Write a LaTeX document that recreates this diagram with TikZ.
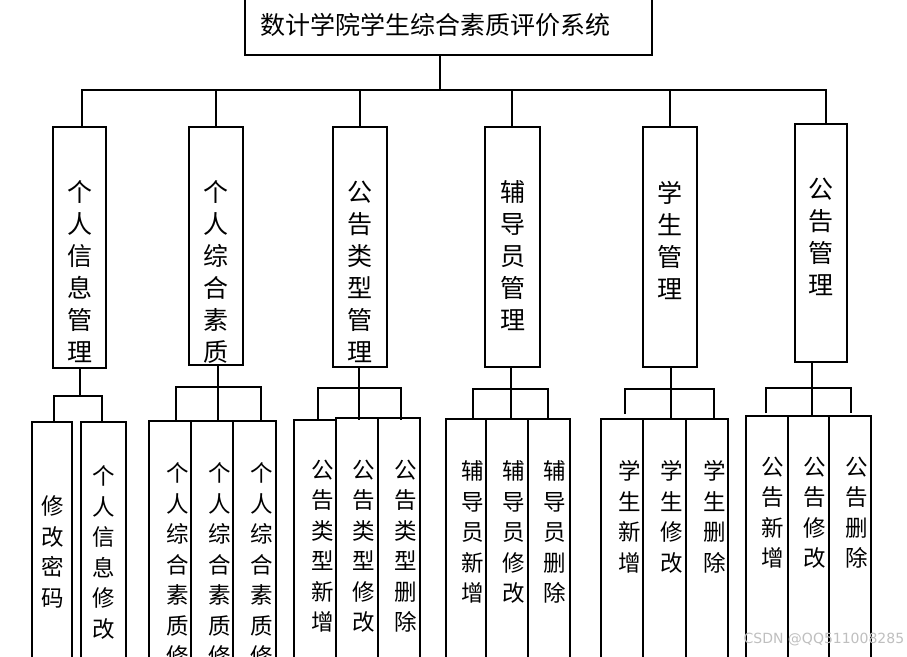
\documentclass[tikz,border=0pt]{standalone}
\usepackage{fontspec}
\newfontfamily\cjk{Noto Sans CJK SC}
\begin{document}
\begin{tikzpicture}[x=1pt,y=-1pt,line width=1.6pt,
  mt/.style={font=\cjk\fontsize{25}{32}\selectfont,align=center,anchor=north,inner sep=0pt},
  lt/.style={font=\cjk\fontsize{22.5}{30.5}\selectfont,align=center,anchor=north,inner sep=0pt}]
\useasboundingbox (0,0) rectangle (907,656);
\clip (0,0) rectangle (907,656);
\fill[white] (0,0) rectangle (907,656);
% title
\draw (245,-20) -- (245,55) -- (652,55) -- (652,-20);
\coordinate (T) at (440,55);
\node[font=\cjk\fontsize{25}{28}\selectfont,anchor=west] (title) at (256,25) {数计学院学生综合素质评价系统};
\draw (T) -- (440,90);
\draw (82,127) -- (82,90) -- (826,90) -- (826,124);
\foreach \x in {216,360,512,670} \draw (\x,90) -- (\x,127);
% level 2
\newcommand\Lbox[6]{% name, x1,y1,x2,y2, text
  \draw (#2,#3) rectangle (#4,#5);
  \node[mt] (#1) at ({(#2+#4)/2},#3+53) {#6};}
\Lbox{a}{53}{127}{106}{368}{个\\人\\信\\息\\管\\理}
\Lbox{b}{189}{127}{243}{365}{个\\人\\综\\合\\素\\质}
\Lbox{c}{333}{127}{387}{367}{公\\告\\类\\型\\管\\理}
\Lbox{d}{485}{127}{540}{367}{辅\\导\\员\\管\\理}
\Lbox{e}{643}{127}{697}{367}{学\\生\\管\\理}
\Lbox{f}{795}{124}{847}{362}{公\\告\\管\\理}
\newcommand\Stxt[4]{\node[lt] (#1) at (#2,#3) {#4};}
% group a
\draw (80,368) -- (80,396); \draw (54,422) -- (54,396) -- (102,396) -- (102,422);
\draw (32,422) rectangle (72,720); \draw (81,422) rectangle (126,720);
\Stxt{a1}{53}{495}{修\\改\\密\\码}
\Stxt{a2}{104}{465}{个\\人\\信\\息\\修\\改}
% group b
\draw (218,365) -- (218,421); \draw (176,421) -- (176,387) -- (261,387) -- (261,421);
\draw (149,421) rectangle (191,720); \draw (191,421) rectangle (233,720); \draw (233,421) rectangle (276,720);
\Stxt{b1}{178}{462}{个\\人\\综\\合\\素\\质\\修}
\Stxt{b2}{220}{462}{个\\人\\综\\合\\素\\质\\修}
\Stxt{b3}{262}{462}{个\\人\\综\\合\\素\\质\\修}
% group c
\draw (359,367) -- (359,420); \draw (318,420) -- (318,388) -- (401,388) -- (401,420);
\draw (294,420) rectangle (336,720); \draw (336,418) rectangle (378,720); \draw (378,418) rectangle (420,720);
\Stxt{c1}{323}{459}{公\\告\\类\\型\\新\\增}
\Stxt{c2}{364}{459}{公\\告\\类\\型\\修\\改}
\Stxt{c3}{406}{459}{公\\告\\类\\型\\删\\除}
% group d
\draw (511,367) -- (511,419); \draw (473,419) -- (473,389) -- (548,389) -- (548,419);
\draw (446,419) rectangle (486,720); \draw (486,419) rectangle (528,720); \draw (528,419) rectangle (570,720);
\Stxt{d1}{473}{460}{辅\\导\\员\\新\\增}
\Stxt{d2}{514}{460}{辅\\导\\员\\修\\改}
\Stxt{d3}{555}{460}{辅\\导\\员\\删\\除}
% group e
\draw (671,367) -- (671,419); \draw (625,414) -- (625,389) -- (714,389) -- (714,419);
\draw (601,419) rectangle (643,720); \draw (643,419) rectangle (686,720); \draw (686,419) rectangle (728,720);
\Stxt{e1}{630}{460}{学\\生\\新\\增}
\Stxt{e2}{672}{460}{学\\生\\修\\改}
\Stxt{e3}{715}{460}{学\\生\\删\\除}
% group f
\draw (812,362) -- (812,416); \draw (766,413) -- (766,388) -- (851,388) -- (851,413);
\draw (746,416) rectangle (788,720); \draw (788,416) rectangle (829,720); \draw (829,416) rectangle (871,720);
\Stxt{f1}{773}{456}{公\\告\\新\\增}
\Stxt{f2}{815}{456}{公\\告\\修\\改}
\Stxt{f3}{857}{456}{公\\告\\删\\除}
\node[font=\fontspec{DejaVu Sans}\fontsize{14}{14}\selectfont,text=black!25,anchor=east,inner sep=0pt] (wm) at (905,640) {CSDN @QQ511008285};
\end{tikzpicture}
\end{document}
